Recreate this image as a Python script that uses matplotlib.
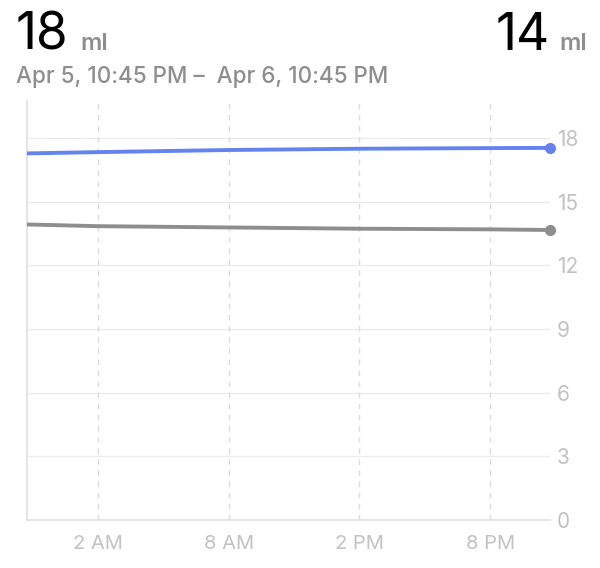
import matplotlib
matplotlib.use("Agg")
import matplotlib.pyplot as plt

# Data (hours since Apr 5, 10:45 PM)
hours = [0, 3.25, 9.25, 15.25, 21.25, 24]
blue_vals = [17.28, 17.34, 17.44, 17.50, 17.53, 17.54]
gray_vals = [13.93, 13.85, 13.79, 13.73, 13.70, 13.67]
xtick_pos = [3.25, 9.25, 15.25, 21.25]
xtick_labels = ["2 AM", "8 AM", "2 PM", "8 PM"]
yticks = [0, 3, 6, 9, 12, 15, 18]
left_value, right_value, unit = "18", "14", "ml"
subtitle = "Apr 5, 10:45 PM \u2013  Apr 6, 10:45 PM"

plt.rcParams['font.family'] = ['Inter', 'DejaVu Sans']

W, H = 600, 568
fig = plt.figure(figsize=(W / 100, H / 100), dpi=100)
fig.patch.set_facecolor("white")

x0, x1, ytop, ybot = 27, 550, 101, 520
ax = fig.add_axes([x0 / W, (H - ybot) / H, (x1 - x0) / W, (ybot - ytop) / H])
ax.set_xlim(0, 24)
ax.set_ylim(0, 19.75)

blue = "#6482f0"
gray = "#8e8e8e"
ax.plot(hours, blue_vals, color=blue, lw=2.8, solid_capstyle="round", zorder=5)
ax.plot(hours[-1], blue_vals[-1], 'o', color=blue, ms=7, zorder=6, clip_on=False)
ax.plot(hours, gray_vals, color=gray, lw=2.8, solid_capstyle="round", zorder=5)
ax.plot(hours[-1], gray_vals[-1], 'o', color=gray, ms=7, zorder=6, clip_on=False)

for y in yticks[1:]:
    ax.axhline(y, color="#ececec", lw=1.0, zorder=1)
for x in xtick_pos:
    ax.axvline(x, color="#dcdcdc", lw=1.0, ls=(0, (4, 4)), zorder=1)

for s in ["top", "right"]:
    ax.spines[s].set_visible(False)
ax.spines["left"].set_color("#e0e0e0")
ax.spines["bottom"].set_color("#e0e0e0")
ax.spines["left"].set_linewidth(1.2)
ax.spines["bottom"].set_linewidth(1.2)

ax.yaxis.tick_right()
ax.set_yticks(yticks)
ax.set_yticklabels([str(v) for v in yticks])
ax.set_xticks(xtick_pos)
ax.set_xticklabels(xtick_labels)
ax.tick_params(axis="y", length=0, pad=5, labelsize=15, labelcolor="#c2c2c2")
ax.tick_params(axis="x", length=0, pad=11, labelsize=14.5, labelcolor="#c2c2c2")

# Header texts
fig.text(16 / W, 1 - 50 / H, left_value, fontsize=37, color="black", ha="left", va="baseline")
fig.text(80 / W, 1 - 50 / H, unit, fontsize=17, color=gray, fontweight="semibold", ha="left", va="baseline")
fig.text(587 / W, 1 - 50 / H, unit, fontsize=17, color=gray, fontweight="semibold", ha="right", va="baseline")
fig.text(550 / W, 1 - 50 / H, right_value, fontsize=37, color="black", ha="right", va="baseline")
fig.text(16 / W, 1 - 83 / H, subtitle, fontsize=16.2, color=gray, fontweight="medium", ha="left", va="baseline")

fig.savefig("out.png", dpi=100, facecolor="white")
